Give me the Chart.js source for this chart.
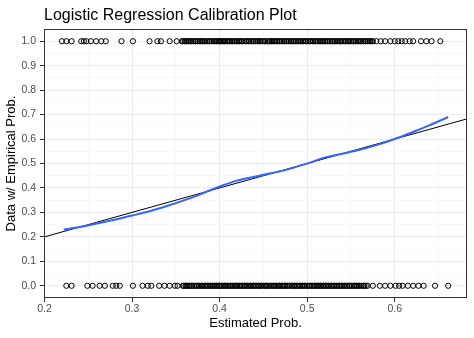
<!DOCTYPE html>
<html>
<head>
	<title>Logistic Regression Calibration Plot</title>
	<meta charset="utf-8" />
	<script src="https://cdn.jsdelivr.net/npm/chart.js@4.4.1/dist/chart.umd.min.js"></script>
	<style>
		body { margin: 0; background: #ffffff; }
		#wrap { width: 474px; height: 338px; }
	</style>
</head>
<body>

<div id="wrap">
	<canvas id="myChart" width="474" height="338"></canvas>
</div>

<script type="text/javascript">
// chart text
var titleText = 'Logistic Regression Calibration Plot';
var xTitle = 'Estimated Prob.';
var yTitle = 'Data w/ Empirical Prob.';

// estimated prob. of the cases with outcome 1
var onesX = [0.220, 0.225, 0.231, 0.242, 0.245, 0.248, 0.253, 0.259, 0.265, 0.270, 0.288, 0.301, 0.320, 0.329, 0.333, 0.343, 0.351,
	0.357, 0.358, 0.360, 0.361, 0.362, 0.364, 0.365, 0.367, 0.368, 0.370, 0.372, 0.373, 0.375, 0.377, 0.378, 0.380, 0.381,
	0.383, 0.384, 0.386, 0.388, 0.389, 0.391, 0.393, 0.394, 0.396, 0.397, 0.399, 0.400, 0.401, 0.402, 0.404, 0.405, 0.406,
	0.408, 0.409, 0.411, 0.412, 0.414, 0.415, 0.417, 0.419, 0.420, 0.422, 0.423, 0.425, 0.426, 0.428, 0.430, 0.431, 0.433,
	0.434, 0.436, 0.438, 0.439, 0.441, 0.443, 0.444, 0.446, 0.447, 0.449, 0.451, 0.452, 0.455, 0.456, 0.457, 0.459, 0.460,
	0.462, 0.463, 0.465, 0.466, 0.468, 0.469, 0.471, 0.473, 0.474, 0.476, 0.477, 0.479, 0.481, 0.482, 0.484, 0.485, 0.487,
	0.489, 0.490, 0.492, 0.493, 0.495, 0.496, 0.498, 0.499, 0.501, 0.503, 0.504, 0.506, 0.507, 0.509, 0.510, 0.512, 0.514,
	0.515, 0.517, 0.518, 0.520, 0.521, 0.523, 0.524, 0.526, 0.528, 0.529, 0.531, 0.532, 0.534, 0.535, 0.537, 0.538, 0.539,
	0.541, 0.543, 0.544, 0.546, 0.547, 0.548, 0.550, 0.552, 0.553, 0.555, 0.556, 0.558, 0.559, 0.561, 0.562, 0.564, 0.566,
	0.567, 0.569, 0.571, 0.572, 0.574, 0.575,
	0.579, 0.584, 0.589, 0.595, 0.600, 0.604, 0.608, 0.612, 0.617, 0.621, 0.630, 0.636, 0.642, 0.652];

// estimated prob. of the cases with outcome 0
var zerosX = [0.225, 0.231, 0.249, 0.255, 0.263, 0.269, 0.278, 0.282, 0.286, 0.301, 0.312, 0.318, 0.322, 0.331, 0.337, 0.343, 0.349, 0.352,
	0.358, 0.359, 0.361, 0.362, 0.363, 0.365, 0.366, 0.368, 0.369, 0.371, 0.373, 0.374, 0.376, 0.377, 0.379, 0.380, 0.381,
	0.383, 0.384, 0.386, 0.387, 0.389, 0.390, 0.392, 0.393, 0.394, 0.396, 0.397, 0.399, 0.400, 0.402, 0.403, 0.405, 0.406,
	0.407, 0.409, 0.410, 0.412, 0.413, 0.415, 0.416, 0.418, 0.419, 0.420, 0.422, 0.423, 0.425, 0.426, 0.428, 0.429, 0.431,
	0.432, 0.434, 0.435, 0.436, 0.438, 0.439, 0.441, 0.442, 0.444, 0.445, 0.447, 0.448, 0.450, 0.452, 0.453, 0.454, 0.456,
	0.458, 0.459, 0.461, 0.462, 0.464, 0.465, 0.467, 0.468, 0.469, 0.471, 0.472, 0.474, 0.475, 0.477, 0.478, 0.480, 0.482,
	0.483, 0.485, 0.486, 0.488, 0.489, 0.491, 0.492, 0.494, 0.495, 0.497, 0.498, 0.500, 0.502, 0.503, 0.505, 0.506, 0.508,
	0.509, 0.511, 0.512, 0.513, 0.515, 0.516, 0.518, 0.519, 0.521, 0.522, 0.524, 0.525, 0.527, 0.528, 0.530, 0.531, 0.533,
	0.534, 0.536, 0.537, 0.539, 0.540, 0.542, 0.543, 0.545, 0.546, 0.548, 0.549, 0.551, 0.553, 0.554, 0.556, 0.557, 0.559,
	0.560, 0.562, 0.564, 0.565, 0.567, 0.569,
	0.575, 0.583, 0.589, 0.595, 0.601, 0.605, 0.609, 0.615, 0.621, 0.627, 0.633, 0.646, 0.661];

// loess smooth
var smoothX = [0.222, 0.24, 0.26, 0.28, 0.30, 0.32, 0.34, 0.36, 0.38, 0.40, 0.42, 0.44, 0.46, 0.48, 0.50, 0.52, 0.54, 0.56, 0.58, 0.60, 0.62, 0.64, 0.661];
var smoothY = [0.230, 0.240, 0.255, 0.270, 0.287, 0.305, 0.326, 0.350, 0.377, 0.406, 0.430, 0.446, 0.461, 0.478, 0.500, 0.524, 0.540, 0.556, 0.576, 0.600, 0.628, 0.657, 0.690];

// 45 degree reference line
var refX = [0, 1];
var refY = [0, 1];

// axis ticks
var xMajor = [0.2, 0.3, 0.4, 0.5, 0.6];
var xMinor = [0.25, 0.35, 0.45, 0.55, 0.65];
var yMajor = [0.0, 0.1, 0.2, 0.3, 0.4, 0.5, 0.6, 0.7, 0.8, 0.9, 1.0];
var yMinor = [0.05, 0.15, 0.25, 0.35, 0.45, 0.55, 0.65, 0.75, 0.85, 0.95];

var fontFamily = '"Liberation Sans", Arial, Helvetica, sans-serif';

function toPoints(xs, ys) {
	var pts = [];
	for (var i = 0; i < xs.length; i++) {
		pts.push({x: xs[i], y: (Array.isArray(ys) ? ys[i] : ys)});
	}
	return pts;
}

function isMajor(list, v) {
	for (var i = 0; i < list.length; i++) {
		if (Math.abs(list[i] - v) < 1e-9) return true;
	}
	return false;
}

function makeScale(major, minor, min, max, titleTxt, titlePad, labelPad) {
	var all = major.concat(minor).sort(function (a, b) { return a - b; });
	return {
		type: 'linear',
		min: min,
		max: max,
		afterBuildTicks: function (axis) {
			axis.ticks = all.map(function (v) { return {value: v}; });
		},
		ticks: {
			autoSkip: false,
			maxRotation: 0,
			padding: labelPad,
			color: '#4d4d4d',
			font: {family: fontFamily, size: 10.5},
			callback: function (value) {
				return isMajor(major, value) ? value.toFixed(1) : '';
			}
		},
		grid: {
			color: function (ctx) {
				return ctx.tick && isMajor(major, ctx.tick.value) ? '#ebebeb' : '#f5f5f5';
			},
			lineWidth: function (ctx) {
				return ctx.tick && isMajor(major, ctx.tick.value) ? 1 : 0.6;
			},
			drawTicks: true,
			tickLength: 4,
			tickWidth: 1,
			tickColor: function (ctx) {
				return ctx.tick && isMajor(major, ctx.tick.value) ? '#333333' : 'rgba(0,0,0,0)';
			}
		},
		border: {display: false},
		title: {
			display: true,
			text: titleTxt,
			color: '#000000',
			font: {family: fontFamily, size: 13},
			padding: titlePad
		}
	};
}

// title at the left edge of the panel, like ggplot
var plotTitle = {
	id: 'plotTitle',
	afterDraw: function (chart) {
		var c = chart.ctx;
		c.save();
		c.fillStyle = '#000000';
		c.font = '16px ' + fontFamily;
		c.textAlign = 'left';
		c.textBaseline = 'alphabetic';
		c.fillText(titleText, chart.chartArea.left, 19.5);
		c.restore();
	}
};

// panel border
var panelBorder = {
	id: 'panelBorder',
	afterDatasetsDraw: function (chart) {
		var a = chart.chartArea;
		var c = chart.ctx;
		c.save();
		c.strokeStyle = '#333333';
		c.lineWidth = 1;
		c.strokeRect(Math.round(a.left) + 0.5, Math.round(a.top) + 0.5,
			Math.round(a.right - a.left) - 1, Math.round(a.bottom - a.top) - 1);
		c.restore();
	}
};

var xScale = makeScale(xMajor, xMinor, 0.1995, 0.6825, xTitle, {top: 0, bottom: 7}, 1);
xScale.afterFit = function (s) { s.height = 40; };
var yScale = makeScale(yMajor, yMinor, -0.05, 1.05, yTitle, {top: 4, bottom: 0}, 4);
yScale.afterFit = function (s) { s.width = 44; };

var ctx = document.getElementById('myChart').getContext('2d');
var chart = new Chart(ctx, {
	type: 'scatter',
	data: {
		datasets: [
			{
				label: 'loess',
				data: toPoints(smoothX, smoothY),
				showLine: true,
				borderColor: '#3366ff',
				borderWidth: 2,
				pointRadius: 0,
				cubicInterpolationMode: 'monotone',
				order: 0
			},
			{
				label: 'reference',
				data: toPoints(refX, refY),
				showLine: true,
				borderColor: '#000000',
				borderWidth: 1,
				pointRadius: 0,
				order: 1
			},
			{
				label: 'outcome 1',
				data: toPoints(onesX, 1),
				pointStyle: 'circle',
				pointRadius: 2.6,
				borderWidth: 1,
				borderColor: '#000000',
				backgroundColor: 'rgba(0,0,0,0)',
				order: 2
			},
			{
				label: 'outcome 0',
				data: toPoints(zerosX, 0),
				pointStyle: 'circle',
				pointRadius: 2.6,
				borderWidth: 1,
				borderColor: '#000000',
				backgroundColor: 'rgba(0,0,0,0)',
				order: 2
			}
		]
	},
	options: {
		responsive: false,
		devicePixelRatio: 1,
		animation: false,
		layout: {
			padding: {top: 29, right: 7, bottom: 0, left: 0}
		},
		plugins: {
			legend: {display: false},
			tooltip: {enabled: false}
		},
		scales: {
			x: xScale,
			y: yScale
		}
	},
	plugins: [plotTitle, panelBorder]
});
</script>
</body>
</html>
